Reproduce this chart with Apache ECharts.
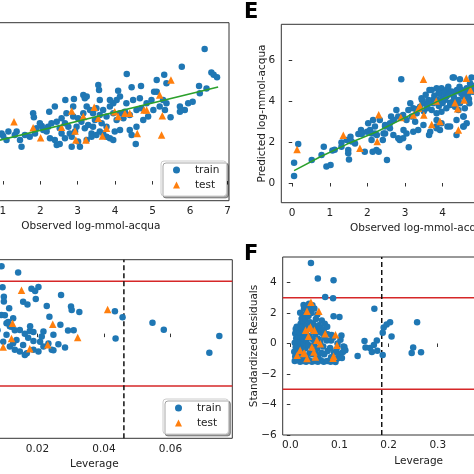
<!DOCTYPE html>
<html>
<head>
<meta charset="utf-8">
<script src="https://cdn.jsdelivr.net/npm/echarts@6/dist/echarts.min.js"></script>
<style>
  html, body { margin: 0; padding: 0; background: #fff; }
  #chart { width: 474px; height: 474px; }
</style>
</head>
<body>
<div id="chart"></div>
<script>
// panel D-like (top left): observed vs predicted, model 1
const trainA = [[6.39,6.46],[5.78,5.59],[6.57,5.30],[6.63,5.19],[6.72,5.07],[4.31,5.23],[5.31,5.19],[5.11,4.94],[5.37,4.78],[6.24,4.65],[6.44,4.53],[6.26,4.29],[3.55,4.70],[3.57,4.45],[4.08,4.42],[4.44,4.58],[4.69,4.65],[5.04,4.37],[3.15,4.21],[3.24,4.13],[2.67,3.96],[2.90,4.01],[2.39,3.64],[2.24,3.39],[1.81,3.31],[1.83,3.12],
  [1.01,2.20],[1.10,2.01],[1.32,2.25],[1.46,2.01],[1.50,1.68],[1.59,2.25],[1.72,2.17],[1.86,2.33],[2.04,2.69],[2.08,2.50],[2.21,2.66],[2.26,2.09],[2.39,2.01],[2.44,1.76],[2.52,1.81],[2.57,2.33],[2.66,2.09],[2.79,2.33],[2.84,1.68],[3.06,1.68],[3.01,1.93],[3.24,2.01],[3.37,2.33],[3.41,2.66],[3.59,2.42],[3.86,2.09],[3.95,2.01],[3.64,2.82],[3.77,2.66],[4.04,2.99],[4.22,3.07],[4.39,2.50],[4.44,2.25],[4.57,2.66],[4.55,1.81],[4.75,2.99],[4.88,3.15],[5.02,3.47],[5.19,3.64],[5.28,3.96],[5.37,3.80],[5.33,3.47],[5.48,3.12],[5.73,3.64],[5.86,3.47],[5.95,3.80],[6.07,3.88],[5.73,3.39],
  [2.88,3.15],[3.01,3.07],[3.15,3.31],[3.24,3.64],[3.33,3.47],[3.41,3.31],[3.50,3.56],[3.68,3.47],[3.86,3.64],[3.95,3.80],[4.04,3.96],[4.13,4.13],[4.30,3.80],[4.48,3.96],[4.66,4.05],[4.84,3.80],[2.97,2.66],[3.10,2.90],[3.19,2.58],[3.28,2.74],[3.46,2.99],[3.59,3.23],[3.77,3.15],[3.95,3.31],[4.13,3.31],[4.26,3.39],[4.39,3.23],[4.57,3.47],[4.70,3.56],[2.84,2.17],[2.93,2.42],[3.37,2.17],[3.50,2.25],[3.68,2.33],[3.77,2.17],[3.99,2.42],[4.13,2.50],[2.57,3.07],[2.66,2.82],[2.75,2.66],[2.52,2.58],[2.44,2.90],[2.30,2.82],[1.99,2.82],[1.90,2.58],[2.17,2.42],[1.37,2.42],[1.15,2.42],[0.97,2.33],
  [4.97,3.96],[5.11,4.37],[3.59,3.96],[3.86,3.96],[3.19,4.05],[2.88,3.64],[2.70,3.31],[0.60,2.00],[0.35,1.70],[0.80,2.40]];
const testA = [[1.30,2.90],[1.81,2.61],[2.01,2.12],[2.84,3.43],[2.93,2.45],[2.95,2.01],[3.22,2.01],[3.15,3.15],[3.44,3.61],[3.55,3.07],[3.66,2.20],[3.77,2.58],[3.99,3.39],[4.08,3.15],[4.26,3.31],[4.39,3.31],[4.59,2.33],[4.77,3.47],[4.84,3.47],[5.19,4.21],[5.26,3.19],[5.24,2.25],[5.49,4.94],[2.57,2.63]];
const fitA = [[0.03,1.60],[6.75,4.60]];

// panel E (top right): observed vs predicted, model 2
const trainE = [[0.05,0.34],[0.05,0.99],[0.16,1.90],[0.52,1.12],[0.78,1.37],[0.84,1.77],[0.91,0.80],[1.02,0.88],[1.07,1.58],[1.13,1.62],[1.31,1.97],[1.31,1.77],[1.45,2.10],[1.49,1.61],[1.49,1.45],[1.51,1.15],[1.55,2.26],[1.58,2.02],[1.67,1.93],[1.76,2.39],[1.83,2.59],[1.85,2.39],[1.93,1.53],[1.99,2.50],[2.02,2.91],[2.07,2.59],[2.11,2.10],[2.15,3.07],[2.20,2.42],[2.24,1.61],[2.14,1.53],[2.30,1.53],[2.41,2.10],[2.43,2.42],[2.47,2.83],[2.52,1.12],[2.63,3.24],[2.70,3.07],[2.77,3.56],[2.86,2.10],[2.90,5.06],[2.96,2.59],[3.10,1.74],[3.14,3.89],[3.27,2.99],[3.45,4.05],[3.64,2.34],[3.65,4.54],[3.74,4.05],[3.83,2.75],[3.89,4.37],[4.01,4.13],[4.10,4.21],[4.13,2.75],[4.20,3.92],[4.27,5.14],[4.38,4.54],[4.42,3.56],[4.56,3.24],[4.56,2.75],[4.65,4.21],
  [4.30,5.15],[4.46,5.06],[4.73,4.86],[4.77,5.15],[3.71,4.54],[3.84,4.62],[3.97,4.62],[4.10,4.54],[4.24,4.46],[4.37,4.46],[4.50,4.54],[4.64,4.62],[4.68,4.37],[4.55,4.21],[4.42,4.05],[4.28,3.97],[4.20,3.80],[4.06,4.05],[3.88,4.05],[3.75,3.89],[3.62,4.05],[3.49,3.89],[3.40,3.72],[3.22,3.64],[3.09,3.56],[2.95,3.32],[2.82,3.24],[2.69,3.07],[2.60,2.91],[2.47,2.75],[2.33,3.07],[2.20,2.75],[2.11,2.42],[2.25,2.34],[3.04,3.07],[3.18,3.24],[3.31,3.40],[3.44,4.13],[3.58,3.64],[3.71,3.56],[3.84,3.40],[3.97,3.48],[4.10,3.64],[4.33,3.72],[4.46,3.89],[4.59,3.64],[4.71,3.89],[3.84,3.07],[3.97,2.91],[4.20,2.75],[4.37,3.07],[4.55,3.24],[4.64,2.91],[4.37,2.34],[4.55,2.75],[3.49,2.83],[3.35,2.59],[3.22,2.50],[3.04,2.42],[2.95,2.18],[2.82,2.18],[2.69,2.34],[2.60,2.67],[2.47,2.42],[3.84,2.67],[3.67,2.50],[3.93,2.59],
  [3.55,4.30],[3.78,4.25],[3.92,4.35],[4.05,4.40],[4.15,4.30],[4.30,4.20],[4.50,4.35],[4.60,4.45],[4.75,4.60],[4.80,4.45],[3.60,3.80],[3.90,3.75],[4.00,3.90],[4.35,3.85],[4.70,4.10],[4.78,4.75],[4.45,4.70],[4.15,4.70],[3.30,3.60],[3.50,3.50]];
const testE = [[0.13,1.64],[1.36,2.33],[1.80,1.69],[2.26,2.02],[2.30,3.33],[2.89,3.20],[3.22,3.32],[3.36,3.64],[3.40,3.76],[3.49,5.06],[3.50,3.32],[3.71,2.85],[3.83,4.00],[3.93,3.00],[4.33,3.92],[4.40,3.62],[4.42,2.59],[4.57,4.05],[4.63,5.11],[4.74,4.54]];
const fitE = [[0.05,0.60],[0.75,1.28],[1.46,1.90],[2.25,2.50],[2.96,3.15],[3.85,3.97],[4.73,4.67],[4.90,4.80]];

// bottom left: leverage vs standardized residuals, model 1
const trainL = [[0.0092,3.86],[0.0142,3.50],[0.0095,2.66],[0.0099,2.12],[0.0099,1.84],[0.0115,1.45],[0.0092,1.07],[0.0127,0.88],[0.0107,0.59],[0.0122,0.40],[0.0147,0.21],[0.0177,0.15],[0.0218,0.12],[0.0248,-0.07],[0.0172,-0.23],[0.0188,-0.42],[0.0208,-0.46],[0.0213,-0.17],[0.0157,-0.65],[0.0147,-1.03],[0.0168,-1.13],[0.0188,-0.93],[0.0203,-1.03],[0.0218,-0.74],[0.0243,-0.93],[0.0263,-0.61],[0.0283,-0.80],[0.0132,-0.93],[0.0117,-0.74],[0.0097,-0.46],[0.0107,-0.07],[0.0137,-0.36],[0.0127,-0.55],[0.0162,-1.22],[0.0162,0.00],[0.0132,0.19],[0.0117,0.42],[0.0112,0.67],[0.0102,1.05],
  [0.0182,2.57],[0.0193,2.45],[0.0203,2.68],[0.0195,1.98],[0.0157,1.83],[0.0170,1.67],[0.0271,2.21],[0.0228,1.59],[0.0236,0.97],[0.0269,0.51],[0.0301,1.56],[0.0303,1.35],[0.0326,1.24],[0.0292,0.18],[0.0309,0.20],[0.0178,0.42],[0.0188,0.10],[0.0233,-0.57],[0.0248,-0.95],
  [0.0433,1.28],[0.0456,0.94],[0.0435,-0.28],[0.0546,0.63],[0.0580,0.23],[0.0747,-0.13],[0.0717,-1.09],
  [0.0040,0.50],[0.0060,-0.80],[0.0030,1.20],[0.0070,2.30],[0.0050,-0.30],[0.0080,0.20]];
const testL = [[0.0152,2.49],[0.0411,1.39],[0.0246,0.54],[0.0321,-0.22],[0.0231,-0.63],[0.0177,-0.87],[0.0125,0.60],[0.0122,-0.28],[0.0097,-0.76]];

// panel F (bottom right): leverage vs standardized residuals, model 2
const trainF = [[0.042,5.28],[0.056,4.26],[0.088,4.15],[0.071,3.04],[0.087,2.97],[0.088,1.79],[0.100,1.74],[0.171,2.27],[0.190,1.05],[0.196,1.25],[0.203,1.40],[0.258,1.39],[0.206,0.46],[0.188,0.70],[0.151,0.16],[0.153,-0.27],[0.162,-0.30],[0.166,-0.56],[0.176,0.20],[0.177,-0.47],[0.188,-0.76],[0.170,-0.10],[0.137,-0.82],[0.250,-0.27],[0.247,-0.63],[0.266,-0.58],[0.104,0.53],[0.110,-0.23],[0.107,-0.56],[0.098,-0.93],[0.092,-1.21],
  [0.009,-1.15],[0.010,-0.85],[0.008,-0.55],[0.011,-0.25],[0.009,0.05],[0.012,0.35],[0.010,0.65],[0.011,0.95],[0.013,1.10],
  [0.015,-1.05],[0.014,-0.70],[0.016,-0.40],[0.015,-0.10],[0.014,0.20],[0.016,0.50],[0.015,0.80],[0.017,1.05],
  [0.020,-1.20],[0.021,-0.92],[0.019,-0.55],[0.022,-0.20],[0.020,0.12],[0.021,0.42],[0.019,0.72],[0.022,1.00],[0.021,1.30],[0.023,1.62],[0.020,2.02],
  [0.026,-1.15],[0.027,-0.80],[0.025,-0.42],[0.027,0.02],[0.026,0.35],[0.028,0.75],[0.025,1.12],[0.027,1.48],[0.026,1.88],[0.028,2.30],[0.027,2.52],
  [0.032,-1.20],[0.033,-0.85],[0.031,-0.30],[0.033,0.18],[0.032,0.60],[0.034,1.20],[0.031,1.60],[0.033,1.98],[0.032,2.40],
  [0.038,-1.10],[0.039,-0.62],[0.037,-0.10],[0.039,0.48],[0.038,1.00],[0.040,1.40],[0.037,1.80],[0.039,2.20],[0.038,2.60],
  [0.044,-1.20],[0.045,-0.70],[0.043,-0.20],[0.045,0.30],[0.044,0.90],[0.046,1.30],[0.043,2.00],[0.045,2.50],
  [0.050,-1.15],[0.051,-0.50],[0.049,0.00],[0.051,0.60],[0.050,1.10],[0.052,1.60],[0.049,2.30],
  [0.056,-1.20],[0.057,-0.80],[0.055,-0.30],[0.057,0.30],[0.056,0.80],[0.058,1.20],[0.055,1.90],
  [0.062,-1.10],[0.063,-0.60],[0.061,0.10],[0.063,0.70],[0.062,1.00],[0.064,1.50],
  [0.068,-1.20],[0.069,-0.70],[0.067,-0.20],[0.069,0.40],[0.068,0.90],[0.070,1.30],
  [0.075,-1.15],[0.076,-0.50],[0.074,0.20],[0.076,0.60],[0.075,1.10],
  [0.082,-1.20],[0.083,-0.90],[0.081,-0.30],[0.083,0.20],[0.084,0.55],
  [0.088,-1.10],[0.089,-0.60],[0.087,0.40],[0.095,-1.00],[0.094,-0.40],[0.096,0.00],[0.100,-0.70],[0.102,0.25],[0.108,-0.20],[0.105,-0.95],[0.112,-0.45]];
const testF = [[0.042,2.71],[0.058,2.12],[0.034,2.12],[0.041,1.08],[0.049,0.86],[0.071,0.64],[0.092,0.58],[0.037,0.47],[0.054,0.21],[0.095,-0.12],[0.027,-0.66],[0.020,-0.45],[0.044,-0.23],[0.051,-0.88],[0.014,-0.77],[0.088,-0.84],[0.034,-0.99],[0.048,-0.56],[0.061,-0.01],[0.031,0.86],[0.087,-0.97],[0.029,-0.64],[0.038,0.99]];

// ticks, axis limits and reference lines
const ticksObs = [0, 1, 2, 3, 4, 5, 6, 7];
const ticksPred = [0, 2, 4, 6];
const ticksLevL = [0, 0.02, 0.04, 0.06];
const ticksLevF = [0, 0.1, 0.2, 0.3, 0.4, 0.5];
const ticksRes = [-6, -4, -2, 0, 2, 4];
const xLimL = [-0.0044, 0.0786], yLimL = [-6, 4.24];
const xLimF = [-0.0155, 0.538], yLimF = [-6, 5.67];
const residLimit = 3;
const hStarL = 0.046;
const hStarF = 0.186;

const BLUE = "#1f77b4", ORANGE = "#ff7f0e", GREEN = "#2ca02c", RED = "#d62728";
const FONT = "DejaVu Sans";
const TXT = "#222";

function xAx(gridIndex, min, max, ticks, name, fmt) {
  return {
    type: "value", gridIndex, min, max,
    name, nameLocation: "middle", nameGap: 20.5, nameMoveOverlap: false,
    nameTextStyle: { fontSize: 10.5, color: TXT, fontFamily: FONT },
    axisLine: { show: false },
    axisTick: { show: true, length: 3.5, lineStyle: { color: "#333" }, customValues: ticks },
    axisLabel: { fontSize: 10.5, color: TXT, fontFamily: FONT, margin: 5, customValues: ticks, formatter: fmt },
    splitLine: { show: false }
  };
}
function yAx(gridIndex, min, max, ticks, name, gap, fmt) {
  return {
    type: "value", gridIndex, min, max,
    name, nameLocation: "middle", nameGap: gap, nameMoveOverlap: false,
    nameTextStyle: { fontSize: 10.5, color: TXT, fontFamily: FONT },
    axisLine: { show: false },
    axisTick: { show: true, length: 3.5, lineStyle: { color: "#333" }, customValues: ticks },
    axisLabel: { fontSize: 10.5, color: TXT, fontFamily: FONT, margin: 6, customValues: ticks, formatter: fmt },
    splitLine: { show: false }
  };
}
function grid(left, top, width, height) {
  return { left, top, width, height, show: true, borderColor: "#333", borderWidth: 1, outerBoundsMode: "none" };
}
function pts(name, data, idx) {
  const tri = name === "test";
  return {
    name, type: "scatter", data, xAxisIndex: idx, yAxisIndex: idx,
    symbol: tri ? "triangle" : "circle", symbolSize: tri ? 7.5 : 6.5,
    itemStyle: { color: tri ? ORANGE : BLUE, opacity: 1 }, z: tri ? 3 : 2
  };
}
function fit(data, idx) {
  return {
    type: "line", data, xAxisIndex: idx, yAxisIndex: idx, showSymbol: false,
    lineStyle: { color: GREEN, width: 1.5 }, z: 4, silent: true
  };
}
function refLine(data, idx, color, dash, z) {
  return {
    type: "line", data, xAxisIndex: idx, yAxisIndex: idx, showSymbol: false, silent: true,
    lineStyle: { color, width: 1.5, type: dash }, z
  };
}
function residLines(idx, xLim, yLim, hStar) {
  return [
    refLine([[xLim[0], residLimit], [xLim[1], residLimit]], idx, RED, "solid", 1),
    refLine([[xLim[0], -residLimit], [xLim[1], -residLimit]], idx, RED, "solid", 1),
    refLine([[hStar, yLim[0]], [hStar, yLim[1]]], idx, "#111", [5, 3], 1)
  ];
}
function legend(left, top) {
  return {
    orient: "vertical", left, top,
    data: [{ name: "train", icon: "circle" }, { name: "test", icon: "triangle" }],
    itemWidth: 7, itemHeight: 7, itemGap: 3,
    padding: [3, 7, 5, 12],
    textStyle: { fontSize: 10.5, color: TXT, fontFamily: FONT, padding: [0, 0, 0, 10], lineHeight: 12 },
    backgroundColor: "#fff", borderColor: "#ccc", borderWidth: 1, borderRadius: 3,
    shadowColor: "rgba(0,0,0,0.35)", shadowOffsetX: 2, shadowOffsetY: 2, shadowBlur: 0
  };
}
const fmtLev2 = v => v.toFixed(2);
const fmtLev1 = v => v.toFixed(1);
const fmtMinus = v => (v < 0 ? "\u2212" + Math.abs(v) : String(v));

const chart = echarts.init(document.getElementById("chart"), null, { renderer: "canvas" });
chart.setOption({
  animation: false,
  backgroundColor: "#fff",
  textStyle: { fontFamily: FONT },
  grid: [
    grid(-47.4, 22.7, 276.4, 178),
    grid(281.3, 24.3, 276.6, 178.4),
    grid(-43.7, 259.7, 276, 178.6),
    grid(282.7, 257, 272, 178)
  ],
  xAxis: [
    xAx(0, -0.34, 7.04, ticksObs, "Observed log-mmol-acqua"),
    xAx(1, -0.29, 7.066, ticksObs, "Observed log-mmol-acqua"),
    xAx(2, xLimL[0], xLimL[1], ticksLevL, "Leverage", fmtLev2),
    xAx(3, xLimF[0], xLimF[1], ticksLevF, "Leverage", fmtLev1)
  ],
  yAxis: [
    yAx(0, -0.96, 7.74, ticksPred, "Predicted log-mmol-acqua", 13.5),
    yAx(1, -0.96, 7.74, ticksPred, "Predicted log-mmol-acqua", 13.5),
    yAx(2, yLimL[0], yLimL[1], ticksRes, "Standardized Residuals", 23, fmtMinus),
    yAx(3, yLimF[0], yLimF[1], ticksRes, "Standardized Residuals", 23, fmtMinus)
  ],
  legend: [legend(161, 161), legend(163, 399)],
  graphic: [
    { type: "text", left: 244, top: 2, style: { text: "E", font: "bold 21px DejaVu Sans", fill: "#000" } },
    { type: "text", left: 244, top: 244, style: { text: "F", font: "bold 21px DejaVu Sans", fill: "#000" } }
  ],
  series: [
    pts("train", trainA, 0), pts("test", testA, 0), fit(fitA, 0),
    pts("train", trainE, 1), pts("test", testE, 1), fit(fitE, 1),
    ...residLines(2, xLimL, yLimL, hStarL), pts("train", trainL, 2), pts("test", testL, 2),
    ...residLines(3, xLimF, yLimF, hStarF), pts("train", trainF, 3), pts("test", testF, 3)
  ]
});
</script>
</body>
</html>
